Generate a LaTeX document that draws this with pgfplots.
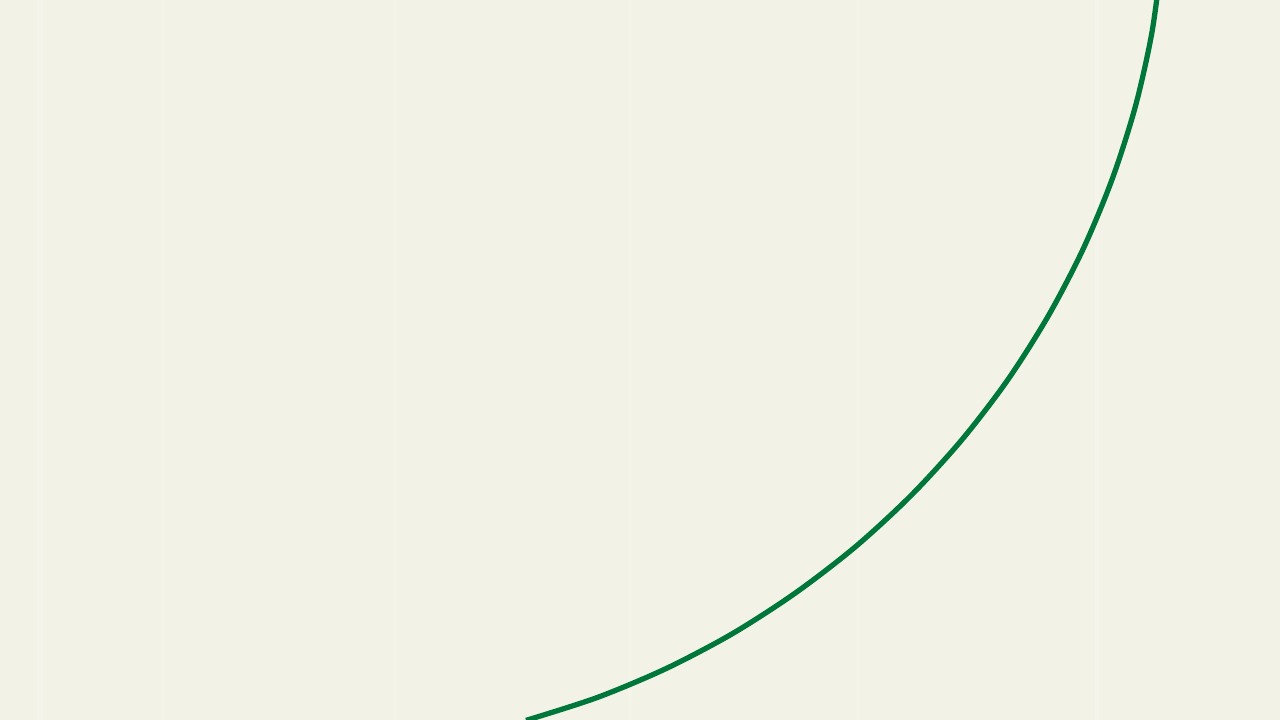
\documentclass[border=0pt]{standalone}
\usepackage{pgfplots}
\pgfplotsset{compat=1.18}
\definecolor{bgcream}{HTML}{F3F2E7}
\definecolor{stripe}{HTML}{F5F4EB}
\definecolor{curvegreen}{HTML}{00773A}
\begin{document}
\begin{tikzpicture}
\begin{axis}[
  width=12.8cm, height=7.2cm, scale only axis,
  xmin=0, xmax=1280, ymin=0, ymax=720,
  axis line style={draw=none}, ticks=none,
  axis background/.style={fill=bgcream},
  clip=true,
]
\addplot[draw=stripe, line width=1.6pt] coordinates {(40,0) (40,720)};
\addplot[draw=stripe, line width=1.2pt] coordinates {(163,0) (163,720)};
\addplot[draw=stripe, line width=1.2pt] coordinates {(395,0) (395,720)};
\addplot[draw=stripe, line width=1.2pt] coordinates {(630,0) (630,720)};
\addplot[draw=stripe, line width=1.2pt] coordinates {(858,0) (858,720)};
\addplot[draw=stripe, line width=1.2pt] coordinates {(1097,0) (1097,720)};
\addplot[curvegreen, line width=1.5pt, smooth] coordinates {
(526,-0.4) (597,22.4) (666,51.4) (732.5,86.4) (795.5,127.1) (855.5,173.3)
(911,224.5) (962,280.4) (1008,340.5) (1048.5,404.5) (1083.5,471.8)
(1112.5,541.8) (1135.5,614.1) (1152,688.1) (1162,763.2)
};
\end{axis}
\end{tikzpicture}
\end{document}
